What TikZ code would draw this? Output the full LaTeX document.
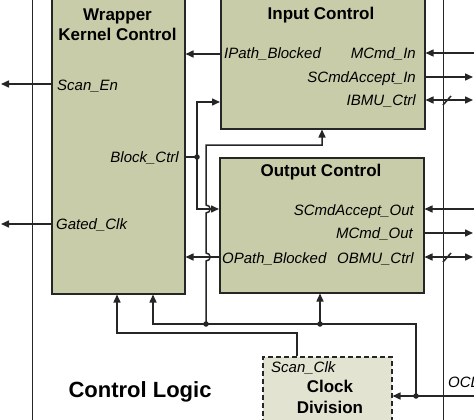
\documentclass[tikz,border=0pt]{standalone}
\usepackage{fontspec}
\setmainfont{Liberation Sans}
\usetikzlibrary{arrows.meta}
\definecolor{boxfill}{HTML}{C8CCA8}
\definecolor{clkfill}{HTML}{E2E3D0}
\definecolor{ln}{HTML}{262626}
\begin{document}
\begin{tikzpicture}[x=1pt,y=-1pt,
  blk/.style={draw=ln, line width=1.5pt, fill=boxfill, inner sep=0pt, anchor=north west},
  clkblk/.style={blk, fill=clkfill, dash pattern=on 5pt off 3pt},
  frame/.style={draw=ln, line width=1.4pt, inner sep=0pt, anchor=north west},
  wire/.style={draw=ln, line width=1.5pt},
  arr/.style={wire, -{Triangle[length=8pt,width=7pt]}},
  darr/.style={wire, {Triangle[length=8pt,width=7pt]}-{Triangle[length=8pt,width=7pt]}},
  ttl/.style={font=\fontsize{17}{19}\selectfont\bfseries, inner sep=0pt},
  big/.style={font=\fontsize{22}{24}\selectfont\bfseries, inner sep=0pt},
  sig/.style={font=\fontsize{15}{17}\selectfont\itshape, inner sep=0pt},
  dot/.style={circle, fill=ln, inner sep=0pt, minimum size=5.5pt}
]
\useasboundingbox (0,0) rectangle (474,420);
\clip (0,0) rectangle (474,420);
\fill[white] (0,0) rectangle (474,420);

% outer Control Logic frame
\node[frame, minimum width=410.5pt, minimum height=440pt] (ctrl) at (32,-10) {};

% blocks
\node[blk, minimum width=133pt, minimum height=298pt] (wkc) at (51,-5) {};
\node[blk, minimum width=204pt, minimum height=133pt] (ic) at (220,-5) {};
\node[blk, minimum width=204pt, minimum height=135pt] (oc) at (219,157) {};
\node[clkblk, minimum width=129pt, minimum height=80pt] (clk) at (262,356) {};

% titles
\node[ttl, anchor=base] (t1) at (117.5,21) {Wrapper};
\node[ttl, anchor=base] (t2) at (117.5,41) {Kernel Control};
\node[ttl, anchor=base] (t3) at (321,20) {Input Control};
\node[ttl, anchor=base] (t4) at (321,176) {Output Control};
\node[ttl, anchor=base] (t5) at (330,392) {Clock};
\node[ttl, anchor=base] (t6) at (330,413) {Division};
\node[big, anchor=base] (t7) at (140,397) {Control Logic};

% signal labels
\node[sig, anchor=base west] (lse) at (57,90) {Scan\_En};
\node[sig, anchor=base east] (lbc) at (179,162) {Block\_Ctrl};
\node[sig, anchor=base west] (lgc) at (56,229) {Gated\_Clk};
\node[sig, anchor=base west] (lipb) at (224,59) {IPath\_Blocked};
\node[sig, anchor=base east] (lmi) at (416,59) {MCmd\_In};
\node[sig, anchor=base east] (lsai) at (416,82) {SCmdAccept\_In};
\node[sig, anchor=base east] (libm) at (416,106) {IBMU\_Ctrl};
\node[sig, anchor=base east] (lsao) at (414,215) {SCmdAccept\_Out};
\node[sig, anchor=base east] (lmo) at (413,238) {MCmd\_Out};
\node[sig, anchor=base east] (lobm) at (414,263) {OBMU\_Ctrl};
\node[sig, anchor=base west] (lopb) at (222,263) {OPath\_Blocked};
\node[sig, anchor=base west] (lsc) at (271,372) {Scan\_Clk};
\node[sig, anchor=base west] (locl) at (448,387) {OCLK};

% free ends
\coordinate (seO) at (1,84);
\coordinate (gcO) at (1,224);
\coordinate (miI) at (475,53);
\coordinate (saiO) at (473,77);
\coordinate (ibO) at (473,100);
\coordinate (saoI) at (475,209);
\coordinate (moO) at (473,233);
\coordinate (obO) at (473,257);
\coordinate (oclI) at (475,396);

% left outputs
\draw[arr] (wkc.west |- seO) -- (seO);
\draw[arr] (wkc.west |- gcO) -- (gcO);

% blocked paths
\draw[arr] (ic.west |- 0,54) -- (wkc.east |- 0,54);
\draw[arr] (oc.west |- 0,257) -- (wkc.east |- 0,257);

% right side signals
\draw[arr] (miI) -- (ic.east |- miI);
\draw[arr] (ic.east |- saiO) -- (saiO);
\draw[darr] (ic.east |- ibO) -- (ibO);
\draw[wire] (443,105) -- (451,96);
\draw[arr] (saoI) -- (oc.east |- saoI);
\draw[arr] (oc.east |- moO) -- (moO);
\draw[darr] (oc.east |- obO) -- (obO);
\draw[wire] (443,262) -- (451,253);

% Block_Ctrl
\coordinate (bcj) at (197,157);
\draw[wire] (wkc.east |- bcj) -- (bcj);
\node[dot] (bcd) at (bcj) {};
\draw[arr] (bcd.center) |- (ic.west |- 0,102);
\draw[arr] (bcd.center) |- (oc.west |- 0,209);

% OCLK distribution
\coordinate (oj) at (416,396);
\draw[arr] (oclI) -- (clk.east |- oclI);
\node[dot] (od) at (oj) {};
\coordinate (cj1) at (320,324);
\coordinate (cj2) at (206,324);
\draw[arr] (od.center) |- (416,324) -- (153,324) -- (wkc.south -| 153,0);
\node[dot] (cd1) at (cj1) {};
\node[dot] (cd2) at (cj2) {};
\draw[arr] (cd1.center) -- (oc.south -| cd1);
\draw[arr] (cd2.center) -- (206,261) .. controls (211.5,261) and (211.5,253) .. (206,253)
   -- (206,213) .. controls (211.5,213) and (211.5,205) .. (206,205)
   -- (206,145) -- (322,145) -- (ic.south -| 322,0);

% Scan_Clk
\draw[arr] (clk.north -| 297,0) -- (297,333) -- (117,333) -- (wkc.south -| 117,0);
\end{tikzpicture}
\end{document}
